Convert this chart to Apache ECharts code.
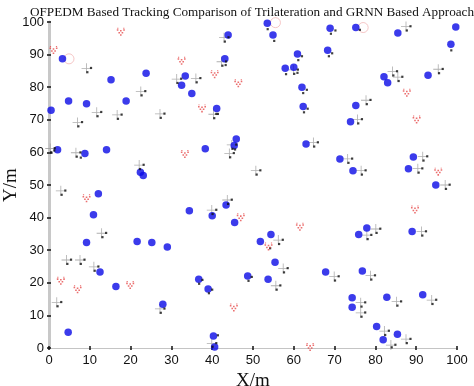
<!DOCTYPE html>
<html><head><meta charset="utf-8">
<script src="https://cdn.jsdelivr.net/npm/echarts@6/dist/echarts.min.js"></script>
<style>html,body{margin:0;padding:0;background:#fff}#c{width:474px;height:386px}</style>
</head><body><div id="c"></div>
<script>
const titleText = 'OFPEDM Based Tracking Comparison of Trilateration and GRNN Based Approach';
const xTicks = [0,10,20,30,40,50,60,70,80,90,100];
const yTicks = [0,10,20,30,40,50,60,70,80,90,100];

// Actual node positions (blue dots)
const nodes = [
[3.3,88.7],[15.2,82.3],[23.8,84.3],[0.5,72.9],[4.8,75.8],[9.2,74.9],[18.9,75.8],
[53.5,99.6],[43.9,96.0],[54.9,96.0],[43.1,88.7],[60.9,90.2],[33.4,83.4],[32.5,80.6],
[35.0,78.1],[57.9,85.8],[60.0,86.1],[62.0,80.0],[41.1,73.5],[62.3,74.1],
[68.9,98.1],[75.2,98.3],[85.5,96.6],[99.7,98.5],[68.3,91.3],[98.5,93.2],[82.1,83.2],
[83.0,81.4],[92.9,83.7],[75.2,74.4],[73.9,69.4],
[2.1,60.8],[8.8,59.7],[14.1,60.8],[22.4,53.9],[23.1,52.9],[12.1,47.3],[10.9,40.9],
[9.2,32.4],[21.6,32.7],[25.2,32.4],[29.0,31.0],
[45.9,64.1],[45.4,62.1],[38.3,61.1],[63.0,62.6],[43.4,43.9],[34.4,42.1],[40.0,40.6],
[45.5,38.5],[54.4,34.8],[51.8,32.7],
[71.3,58.0],[74.5,54.4],[89.3,58.6],[88.1,55.0],[94.8,50.0],[77.9,36.8],[75.9,34.8],[89.0,35.7],
[12.5,23.3],[16.4,18.9],[27.9,13.4],[4.7,4.8],
[55.4,26.3],[36.7,21.1],[48.7,22.1],[53.7,21.1],[39.0,18.1],[40.3,3.7],[40.6,0.3],
[67.8,23.3],[76.8,23.6],[74.3,15.4],[74.3,12.5],[82.8,15.6],[91.6,16.3],[80.3,6.6],
[85.4,4.2],[81.9,2.5]
];

// Trilateration estimates (gray plus)
const trilat = [
[9.2,85.8],[22.5,78.7],[11.7,72.3],[7.0,69.2],[16.7,71.5],[27.2,71.8],[31.3,82.5],[36.0,82.7],
[42.9,95.2],[42.3,87.8],[40.3,71.7],[59.9,85.3],[87.5,98.6],[84.2,84.8],[85.5,83.1],[95.4,85.5],
[77.7,76.0],[75.6,70.1],[0.3,61.2],[6.6,59.9],[22.1,56.1],[2.9,48.2],[12.9,35.2],[44.8,62.3],
[44.2,59.7],[50.7,54.4],[64.8,63.0],[43.7,45.4],[39.9,42.3],[56.2,33.1],[73.2,58.0],[76.5,54.4],
[91.6,58.7],[90.4,55.0],[97.1,50.0],[80.1,36.5],[77.9,34.6],[91.3,35.7],[4.3,27.0],[7.6,27.0],
[11.0,24.9],[1.9,14.0],[27.2,12.0],[57.4,24.4],[55.6,19.1],[39.9,1.4],[69.9,21.9],[78.8,22.2],
[76.4,13.9],[76.4,10.8],[85.2,14.2],[93.8,14.7],[82.2,5.2],[87.5,2.7],[83.8,0.9]
];

// GRNN estimates (small black dots)
const grnn = [
[10.3,85.9],[9.4,84.6],[23.6,78.8],[22.7,77.5],[12.8,72.4],[11.9,71.1],[8.1,69.3],[7.2,68.0],
[17.8,71.6],[16.9,70.3],[28.3,71.9],[27.4,70.6],[32.4,82.6],[31.5,81.3],[37.1,82.8],[36.2,81.5],
[44.0,95.3],[43.1,94.0],[43.4,87.9],[42.5,86.6],[41.4,71.8],[40.5,70.5],[61.0,85.4],[60.1,84.1],
[88.6,98.7],[87.7,97.4],[85.3,84.9],[84.4,83.6],[86.6,83.2],[85.7,81.9],[96.5,85.6],[95.6,84.3],
[78.8,76.1],[77.9,74.8],[76.7,70.2],[75.8,68.9],[1.4,61.3],[0.5,60.0],[7.7,60.0],[6.8,58.7],
[23.2,56.2],[22.3,54.9],[4.0,48.3],[3.1,47.0],[14.0,35.3],[13.1,34.0],[45.9,62.4],[45.0,61.1],
[45.3,59.8],[44.4,58.5],[51.8,54.5],[50.9,53.2],[65.9,63.1],[65.0,61.8],[44.8,45.5],[43.9,44.2],
[41.0,42.4],[40.1,41.1],[57.3,33.2],[56.4,31.9],[74.3,58.1],[73.4,56.8],[77.6,54.5],[76.7,53.2],
[92.7,58.8],[91.8,57.5],[91.5,55.1],[90.6,53.8],[98.2,50.1],[97.3,48.8],[81.2,36.6],[80.3,35.3],
[79.0,34.7],[78.1,33.4],[92.4,35.8],[91.5,34.5],[5.4,27.1],[4.5,25.8],[8.7,27.1],[7.8,25.8],
[12.1,25.0],[11.2,23.7],[3.0,14.1],[2.1,12.8],[28.3,12.1],[27.4,10.8],[58.5,24.5],[57.6,23.2],
[56.7,19.2],[55.8,17.9],[41.0,1.5],[40.1,0.4],[71.0,22.0],[70.1,20.7],[79.9,22.3],[79.0,21.0],
[77.5,14.0],[76.6,12.7],[77.5,10.9],[76.6,9.6],[86.3,14.3],[85.4,13.0],[94.9,14.8],[94.0,13.5],
[83.3,5.3],[82.4,4.0],[88.6,2.8],[87.7,1.5],[84.9,1.0],[84.0,0.2],
[53.6,97.8],[55.2,94.2],[43.3,86.8],[61.1,88.3],[62.0,89.5],[58.1,84.0],[60.9,84.4],[62.3,78.2],
[63.2,79.2],[62.5,72.3],[63.4,73.4],[41.0,71.8],[69.1,96.4],[70.2,97.4],[76.2,97.6],[68.6,89.5],
[69.4,90.4],[98.6,91.3],[0.6,59.9],[1.3,60.6],[7.8,58.4],[45.6,60.9],[37.6,20.9],[36.8,19.7],
[49.7,21.8],[48.9,20.6],[40.0,17.9],[39.2,16.8],[41.4,3.9],[54.2,30.6]
];

// Red cluster markers
const redMarks = [
[1.1,91.4],[17.6,97.0],[32.5,88.1],[40.6,84.0],[46.4,81.2],[37.5,73.5],[87.7,78.3],[90.1,70.1],
[9.2,45.9],[33.3,59.5],[47.0,40.1],[61.5,37.2],[53.8,31.1],[95.4,54.1],[89.7,42.5],
[2.9,20.6],[7.0,18.0],[19.9,19.3],[45.3,12.4],[64.0,0.3]
];

// faint red circles
const redCircles = [[4.9,88.7],[55.5,99.8],[77.0,98.3]];

const chart = echarts.init(document.getElementById('c'));
const axisLineStyle = {color:'#c4c4c4', width:1};
const tickStyle = {show:true, inside:true, length:2, lineStyle:{color:'#111', width:1.5}};
const plusPath = 'path://M4.6,0h0.8v4.6h4.6v0.8h-4.6v4.6h-0.8v-4.6h-4.6v-0.8h4.6z';
const clusterPath = 'path://M0,0h1.6v1.6h-1.6zM3.2,0.6h1.6v1.6h-1.6zM6.4,0h1.6v1.6h-1.6zM1.6,2.8h1.6v1.6h-1.6zM4.8,2.8h1.6v1.6h-1.6zM3.2,5.2h1.6v1.6h-1.6zM0.4,-1.6h1.2v1h-1.2zM6.4,-1.6h1.2v1h-1.2z';
chart.setOption({
  animation:false,
  backgroundColor:'#fff',
  title:{text:titleText, left:247, textAlign:'center', top:1,
    textStyle:{fontFamily:'Liberation Serif', fontWeight:'normal', fontSize:13.2, color:'#111'}},
  grid:{left:49, right:17, top:22, bottom:38, containLabel:false, outerBoundsMode:'none'},
  xAxis:[
    {type:'value', min:0, max:100, interval:10, position:'bottom',
     name:'X/m', nameLocation:'middle', nameGap:24, nameMoveOverlap:false,
     nameTextStyle:{fontFamily:'Liberation Serif', fontSize:19, color:'#111'},
     axisLine:{show:true, lineStyle:axisLineStyle}, axisTick:tickStyle,
     axisLabel:{fontFamily:'Liberation Sans', fontSize:13, color:'#111', margin:6,
       formatter:v=>xTicks.includes(v)?String(v):''},
     splitLine:{show:false}},
    {type:'value', min:0, max:100, interval:10, position:'top',
     axisLine:{show:true, lineStyle:axisLineStyle}, axisTick:tickStyle,
     axisLabel:{show:false}, splitLine:{show:false}}
  ],
  yAxis:[
    {type:'value', min:0, max:100, interval:10, position:'left',
     name:'Y/m', nameLocation:'middle', nameGap:28, nameRotate:90, nameMoveOverlap:false,
     nameTextStyle:{fontFamily:'Liberation Serif', fontSize:19, color:'#111'},
     axisLine:{show:true, lineStyle:axisLineStyle}, axisTick:tickStyle,
     axisLabel:{fontFamily:'Liberation Sans', fontSize:13, color:'#111', margin:5,
       formatter:v=>yTicks.includes(v)?String(v):''},
     splitLine:{show:false}},
    {type:'value', min:0, max:100, interval:10, position:'right',
     axisLine:{show:true, lineStyle:{color:'#c8c8c8', width:3}}, axisTick:tickStyle,
     axisLabel:{show:false}, splitLine:{show:false}}
  ],
  series:[
    {type:'scatter', name:'circles', data:redCircles, symbol:'circle', symbolSize:10, clip:false,
     itemStyle:{color:'transparent', borderColor:'#f2b8b8', borderWidth:1}},
    {type:'scatter', name:'Trilateration', data:trilat, symbol:plusPath, symbolSize:10, clip:false,
     itemStyle:{color:'#9a9a9a'}},
    {type:'scatter', name:'Actual', data:nodes, symbol:'circle', symbolSize:7.5, clip:false,
     itemStyle:{color:'#0a0ae6'}},
    {type:'scatter', name:'GRNN', data:grnn, symbol:'rect', symbolSize:2.2, clip:false,
     itemStyle:{color:'#111'}},
    {type:'scatter', name:'Anchor', data:redMarks, symbol:clusterPath, symbolSize:[8,8], clip:false,
     itemStyle:{color:'#e64a4a'}}
  ]
});
</script></body></html>
